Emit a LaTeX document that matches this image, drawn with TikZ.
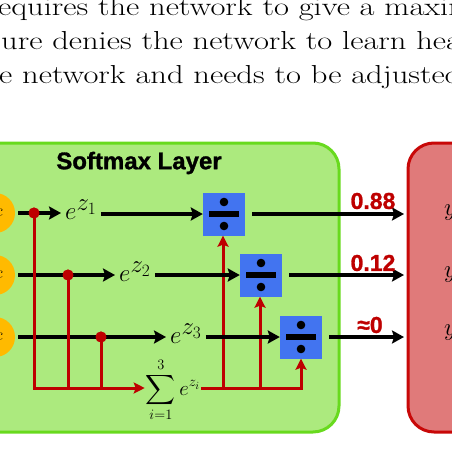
\documentclass[tikz,border=0pt]{standalone}
\usepackage{graphicx}
\usepackage{fontspec}
\usepackage{amsmath}
\newfontfamily\lsans{Liberation Sans}
\newfontfamily\lsansheavy[FakeBold=1.2]{Liberation Sans Bold}
\usetikzlibrary{arrows.meta}
\definecolor{gfill}{RGB}{172,234,126}
\definecolor{gdraw}{RGB}{104,218,30}
\definecolor{rfill}{RGB}{224,122,122}
\definecolor{rdraw}{RGB}{200,8,8}
\definecolor{dred}{RGB}{190,0,0}
\definecolor{bluebox}{RGB}{66,116,240}
\definecolor{orng}{RGB}{255,186,0}
\begin{document}
\begin{tikzpicture}[x=1pt,y=-1pt,
  blk/.style={line width=3.5pt, -{Stealth[length=12pt,width=13pt,inset=2pt]}},
  redl/.style={draw=dred, line width=3pt},
  redarr/.style={redl, -{Stealth[length=11pt,width=11pt,inset=2pt]}},
  divbox/.style={fill=bluebox, minimum width=42pt, minimum height=43pt, inner sep=0pt},
  rdot/.style={circle, fill=dred, minimum size=11pt, inner sep=0pt},
  expn/.style={inner sep=4pt, font=\fontsize{34}{38}\selectfont},
  prob/.style={text=dred, font=\lsansheavy\fontsize{23}{26}\selectfont, inner sep=0pt},
  logit/.style={circle, fill=orng, minimum size=40pt, inner sep=0pt},
  toptext/.style={anchor=base west, inner sep=0pt, font=\fontsize{26}{30}\selectfont}
]
\useasboundingbox (0,0) rectangle (452,452);
\clip (0,0) rectangle (452,452);

% top text
\node[toptext] at (-2,16) {\scalebox{1.25}[1]{equires the network to give a maxim}};
\node[toptext] at (1,50) {\scalebox{1.25}[1]{ure denies the network to learn hea}};
\node[toptext] at (-1,83) {\scalebox{1.25}[1]{e network and needs to be adjusted}};

% boxes
\draw[draw=gdraw, fill=gfill, line width=3pt, rounded corners=26pt] (-40,143) rectangle (339,432);
\draw[draw=rdraw, fill=rfill, line width=3pt, rounded corners=26pt] (408,143) rectangle (500,432);
\coordinate (Rw) at (408,287);

\node[font=\lsansheavy\fontsize{24}{28}\selectfont, inner sep=0pt] (title) at (139,163) {Softmax Layer};

% logits
\node[logit] (c1) at (-5,213) {\fontsize{16}{16}\selectfont\hspace{8pt}$c$};
\node[logit] (c2) at (-5,275) {\fontsize{16}{16}\selectfont\hspace{8pt}$c$};
\node[logit] (c3) at (-5,337) {\fontsize{16}{16}\selectfont\hspace{8pt}$c$};

% exponentials
\node[expn] (e1) at (81,210) {$e^{z_1}$};
\node[expn] (e2) at (135,272) {$e^{z_2}$};
\node[expn] (e3) at (186,334) {$e^{z_3}$};

% division boxes
\node[divbox] (b1) at (224,214) {};
\node[divbox] (b2) at (261,275) {};
\node[divbox] (b3) at (301,337) {};
\foreach \b in {b1,b2,b3} {
  \fill (\b.center) ++(-15,-3) rectangle ++(30,6);
  \fill (\b.center) ++(0,-12) circle (4.3pt);
  \fill (\b.center) ++(0,12) circle (4.3pt);
}

% sum node
\node[inner sep=1pt, font=\fontsize{22}{26}\selectfont] (S) at (173,390) {$\displaystyle\sum_{i=1}^{3} e^{z_i}$};
\coordinate (h) at (0,388);

% red dots
\node[rdot] (d1) at (34,213) {};
\node[rdot] (d2) at (68,275) {};
\node[rdot] (d3) at (101,337) {};

% red lines, right side (under black)
\draw[redarr] (S.east |- h) -| (b3.south);
\draw[redarr] ([xshift=-1pt]b1.south |- h) -- ([xshift=-1pt]b1.south);
\draw[redarr] ([xshift=-1pt]b2.south |- h) -- ([xshift=-1pt]b2.south);

% black arrows
\draw[blk, shorten <=3pt] (c1.east) -- (e1.west |- c1.east);
\draw[blk, shorten <=3pt] (c2.east) -- (e2.west |- c2.east);
\draw[blk, shorten <=3pt] (c3.east) -- (e3.west |- c3.east);
\draw[blk] (e1.east |- b1.west) -- (b1.west);
\draw[blk] (e2.east |- b2.west) -- (b2.west);
\draw[blk] (e3.east |- b3.west) -- (b3.west);
\draw[blk, shorten <=7pt, shorten >=4pt] (b1.east) -- (b1.east -| Rw);
\draw[blk, shorten <=7pt, shorten >=4pt] (b2.east) -- (b2.east -| Rw);
\draw[blk, shorten <=7pt, shorten >=4pt] (b3.east) -- (b3.east -| Rw);

% red lines, left side
\draw[redarr] (d1.center) |- (S.west |- h);
\draw[redl] (d2.center) -- (d2 |- h);
\draw[redl] (d3.center) -- (d3 |- h);
\node[rdot] at (d1) {};
\node[rdot] at (d2) {};
\node[rdot] at (d3) {};

% probabilities
\node[prob] (p1) at (373,201) {0.88};
\node[prob] (p2) at (373,263) {0.12};
\node[prob] (p3) at (370,325) {≈0};

% outputs
\node[anchor=west, inner sep=0pt, font=\fontsize{24}{26}\selectfont] (y1) at (444,213) {$y_1$};
\node[anchor=west, inner sep=0pt, font=\fontsize{24}{26}\selectfont] (y2) at (444,275) {$y_2$};
\node[anchor=west, inner sep=0pt, font=\fontsize{24}{26}\selectfont] (y3) at (444,333) {$y_3$};
\end{tikzpicture}
\end{document}
